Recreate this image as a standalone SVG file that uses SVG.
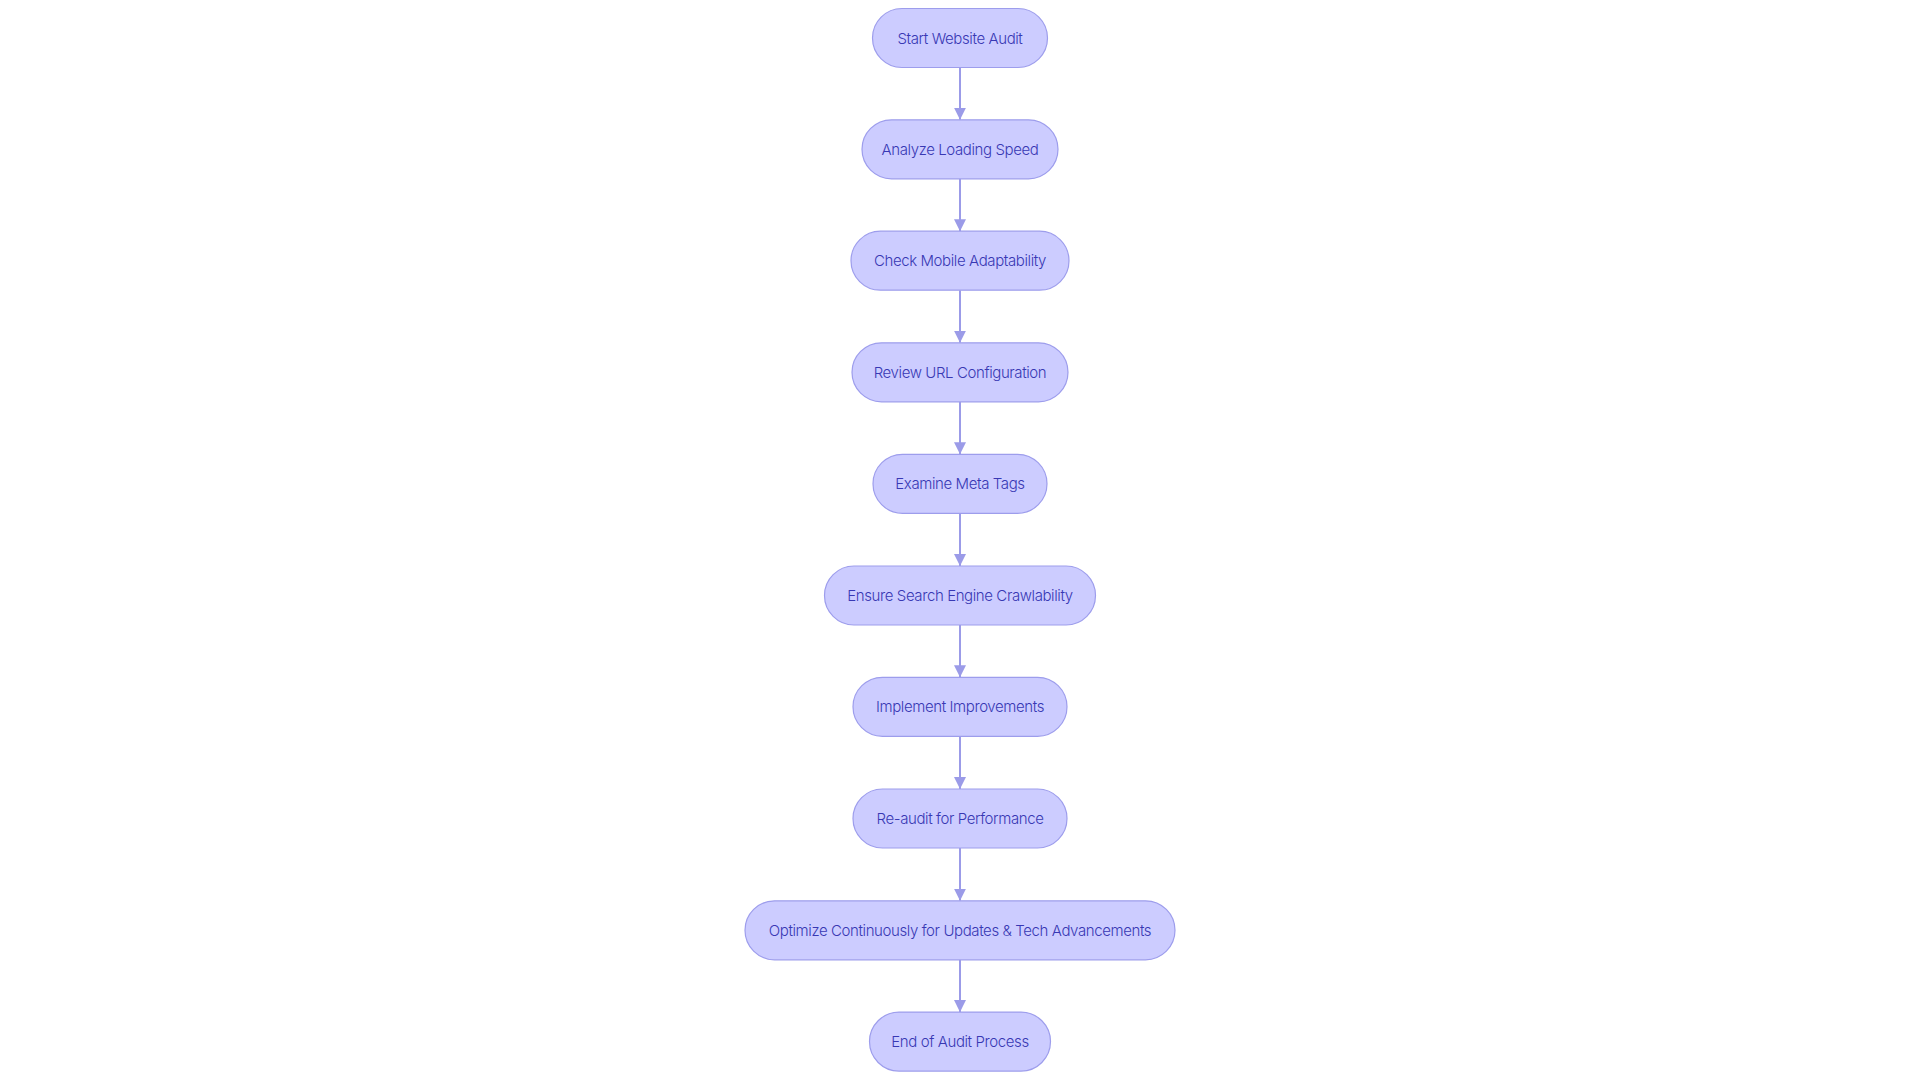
<svg xmlns="http://www.w3.org/2000/svg" width="1920" height="1080" viewBox="0 0 1920 1080">
<style>
.node rect{fill:#ccccff;stroke:#9d9dec;stroke-width:1.2}
.node text{font-family:Inter,"Noto Sans",sans-serif;font-size:15px;font-weight:300;letter-spacing:-0.4px;fill:#3838b4;text-anchor:middle;dominant-baseline:central}
.edge{stroke:#9b9be8;stroke-width:2;fill:none;marker-end:url(#arr)}
</style>
<defs>
<marker id="arr" viewBox="0 0 12 12" refX="12" refY="6" markerWidth="12" markerHeight="12" markerUnits="userSpaceOnUse" orient="auto">
<path d="M0,0 L12,6 L0,12 z" fill="#9b9be8"/>
</marker>
</defs>
<rect width="1920" height="1080" fill="#ffffff"/>
<g id="edges">
<line class="edge" x1="960" y1="67.5" x2="960" y2="119.8"/>
<line class="edge" x1="960" y1="178.8" x2="960" y2="231.2"/>
<line class="edge" x1="960" y1="290.2" x2="960" y2="342.8"/>
<line class="edge" x1="960" y1="401.8" x2="960" y2="454.3"/>
<line class="edge" x1="960" y1="513.3" x2="960" y2="566"/>
<line class="edge" x1="960" y1="625" x2="960" y2="677.3"/>
<line class="edge" x1="960" y1="736.3" x2="960" y2="789"/>
<line class="edge" x1="960" y1="848" x2="960" y2="900.8"/>
<line class="edge" x1="960" y1="959.8" x2="960" y2="1012.1"/>
</g>
<g id="n1" class="node"><rect x="872.5" y="8.5" width="175" height="59" rx="29.5"/><text x="960" y="38">Start Website Audit</text></g>
<g id="n2" class="node"><rect x="862" y="119.8" width="196" height="59" rx="29.5"/><text x="960" y="149.3">Analyze Loading Speed</text></g>
<g id="n3" class="node"><rect x="851" y="231.2" width="218" height="59" rx="29.5"/><text x="960" y="260.7">Check Mobile Adaptability</text></g>
<g id="n4" class="node"><rect x="852" y="342.8" width="216" height="59" rx="29.5"/><text x="960" y="372.3">Review URL Configuration</text></g>
<g id="n5" class="node"><rect x="873" y="454.3" width="174" height="59" rx="29.5"/><text x="960" y="483.8">Examine Meta Tags</text></g>
<g id="n6" class="node"><rect x="824.5" y="566" width="271" height="59" rx="29.5"/><text x="960" y="595.5">Ensure Search Engine Crawlability</text></g>
<g id="n7" class="node"><rect x="853" y="677.3" width="214" height="59" rx="29.5"/><text x="960" y="706.8">Implement Improvements</text></g>
<g id="n8" class="node"><rect x="853" y="789" width="214" height="59" rx="29.5"/><text x="960" y="818.5">Re-audit for Performance</text></g>
<g id="n9" class="node"><rect x="745" y="900.8" width="430" height="59" rx="29.5"/><text x="960" y="930.3">Optimize Continuously for Updates &amp; Tech Advancements</text></g>
<g id="n10" class="node"><rect x="869.5" y="1012.1" width="181" height="59" rx="29.5"/><text x="960" y="1041.6">End of Audit Process</text></g>
</svg>
